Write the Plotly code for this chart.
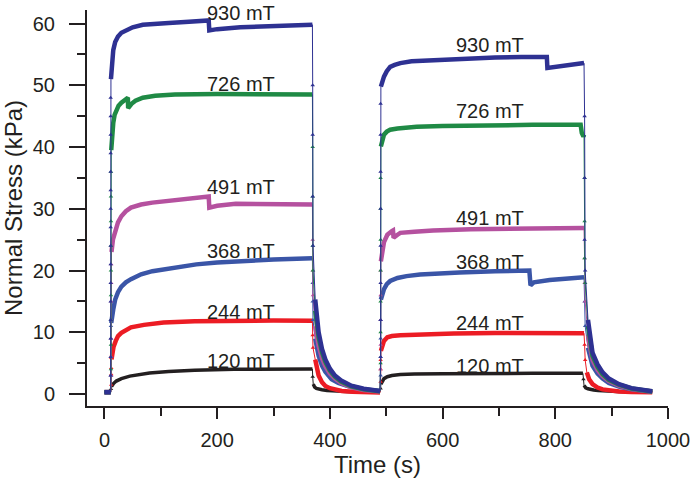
import plotly.graph_objects as go

# ---------------- data ----------------
fields = ["120 mT", "244 mT", "368 mT", "491 mT", "726 mT", "930 mT"]
colors = ["#231f20", "#ec1c24", "#3a55a7", "#b5519f", "#1f8a45", "#2e3192"]

# Each series = list of segments in time order.
# even segments: dense measured curve (thick), odd segments: fast jumps (thin, sparse points)

t120 = [[0, 4, 8, 11],
        [11.5],
        [12.5, 16, 21, 30, 45, 60, 80, 114, 160, 230, 300, 369],
        [369.5],
        [370.5, 373, 376, 380, 386, 395, 410, 430, 460, 489],
        [490],
        [490.5, 493, 496, 502, 510, 525, 550, 600, 650, 700, 760, 800, 849],
        [850],
        [851, 854, 858, 862, 868, 876, 890, 910, 940, 972]]
v120 = [[0.3, 0.3, 0.3, 0.3],
        [0.8],
        [1.2, 1.7, 2.1, 2.5, 2.9, 3.15, 3.4, 3.65, 3.85, 4.0, 4.05, 4.05],
        [2.8],
        [1.6, 1.1, 0.9, 0.78, 0.68, 0.58, 0.48, 0.4, 0.33, 0.28],
        [0.9],
        [1.6, 2.1, 2.5, 2.8, 3.0, 3.15, 3.25, 3.3, 3.35, 3.35, 3.35, 3.35, 3.35],
        [2.4],
        [1.4, 1.0, 0.85, 0.75, 0.65, 0.55, 0.47, 0.4, 0.33, 0.3]]

t244 = [[0, 4, 8, 11],
        [12, 12, 12],
        [12.5, 14, 16, 20, 24, 30, 38, 47, 70, 105, 160, 233, 300, 369],
        [369.5, 370],
        [374, 377, 380, 386, 392, 400, 410, 421, 440, 460, 489],
        [490, 490, 490],
        [490.5, 493, 496, 502, 510, 525, 560, 620, 693, 760, 851],
        [852, 853],
        [856, 860, 866, 875, 884, 895, 913, 935, 972]]
v244 = [[0.3, 0.3, 0.3, 0.3],
        [1.5, 3.2, 4.2],
        [5.6, 6.8, 7.6, 8.6, 9.4, 9.9, 10.4, 10.8, 11.2, 11.6, 11.8, 11.9, 11.9, 11.85],
        [9.5, 7.5],
        [5.6, 4.0, 3.0, 1.9, 1.3, 0.95, 0.7, 0.5, 0.38, 0.3, 0.25],
        [2.0, 4.0, 5.5],
        [7.0, 7.8, 8.6, 9.2, 9.4, 9.5, 9.65, 9.8, 9.9, 9.9, 9.85],
        [8.0, 5.5],
        [3.5, 2.4, 1.6, 1.05, 0.75, 0.55, 0.4, 0.32, 0.28]]

t368 = [[0, 4, 8, 11],
        [11.5, 11.5, 11.5, 11.5],
        [12, 13.5, 15.6, 19, 24, 30, 38, 47, 65, 85, 105, 135, 163, 200, 233, 300, 369],
        [369.5, 369.5, 370],
        [374, 377, 380, 386, 392, 403, 415, 432, 455, 484, 489],
        [490, 490, 490, 490],
        [490.5, 493, 496, 501, 507, 520, 536, 560, 583, 630, 693, 730, 754,
         756, 762, 790, 820, 851],
        [852, 853],
        [858, 866, 875, 884, 895, 913, 935, 959, 972]]
v368 = [[0.3, 0.3, 0.3, 0.3],
        [3, 6, 9, 11],
        [11.5, 12.8, 13.7, 15.3, 16.5, 17.4, 18.1, 18.6, 19.4, 19.9, 20.2, 20.6, 21.0, 21.3, 21.5, 21.8, 22.0],
        [18, 15, 12],
        [9.0, 7.3, 6.2, 4.6, 3.6, 2.4, 1.8, 1.3, 0.8, 0.55, 0.45],
        [3, 6, 9, 12],
        [15.3, 16.3, 17.0, 17.8, 18.3, 18.8, 19.1, 19.35, 19.5, 19.7, 19.9, 19.95, 20.0,
         17.6, 18.1, 18.45, 18.7, 18.9],
        [15, 11],
        [7.5, 4.6, 3.3, 2.5, 1.8, 1.2, 0.75, 0.45, 0.38]]

t491 = [[0, 4, 8, 11],
        [12, 12, 12, 12, 12, 12, 12],
        [12.5, 15, 18.5, 24, 30, 38, 47, 65, 85, 105, 140, 183, 185,
         186, 200, 233, 300, 369],
        [369.5, 369.5, 370],
        [374, 380, 386, 392, 400, 409, 420, 438, 460, 489],
        [490, 490, 490, 490, 490],
        [490.5, 493, 496, 502, 506, 510, 512, 513, 520, 525, 550, 583, 650, 693, 760, 851],
        [852, 852, 853],
        [858, 866, 875, 884, 895, 913, 935, 959, 972]]
v491 = [[0.3, 0.3, 0.3, 0.3],
        [3, 6, 9, 12, 15, 18, 21],
        [23, 25, 26.1, 27.8, 28.8, 29.6, 30.2, 30.7, 31.0, 31.2, 31.6, 32.0, 32.0,
         30.2, 30.5, 30.8, 30.8, 30.7],
        [25, 20, 16],
        [11, 7.8, 5.8, 4.5, 3.3, 2.5, 1.8, 1.1, 0.65, 0.4],
        [4, 8, 12, 16, 20],
        [21.5, 23.4, 24.6, 25.8, 26.2, 26.4, 26.5, 25.3, 25.8, 26.1, 26.3, 26.5, 26.7, 26.75, 26.85, 26.9],
        [22, 18, 15],
        [9.5, 5.5, 3.9, 2.9, 2.1, 1.35, 0.8, 0.5, 0.4]]

t726 = [[0, 4, 8, 11],
        [11.5, 11.5, 11.5, 11.5, 11.5, 11.5, 11.5, 11.5, 11.5],
        [12, 13, 15.6, 18, 21, 25, 30, 35, 40, 41.5, 42, 48, 55, 68, 90, 125, 200, 300, 369],
        [369.5, 369.5, 369.5, 370],
        [374, 380, 386, 392, 400, 409, 420, 438, 460, 489],
        [490, 490, 490, 490, 490, 490, 490],
        [490.5, 493, 496, 501, 507, 520, 554, 600, 693, 760, 845, 847, 850, 851],
        [852, 852, 852, 853],
        [858, 866, 875, 884, 895, 913, 935, 959, 972]]
v726 = [[0.3, 0.3, 0.3, 0.3],
        [4, 8, 12, 16, 20, 24, 28, 32, 36],
        [39.5, 42, 43.9, 45.2, 46, 46.7, 47.2, 47.6, 47.9, 48.0, 46.3, 47.0, 47.5, 48.0, 48.3, 48.5, 48.6, 48.6, 48.5],
        [40, 32, 24, 20],
        [13.5, 9.2, 6.8, 5.2, 3.8, 2.8, 2.0, 1.25, 0.75, 0.45],
        [5, 10, 15, 20, 25, 30, 35],
        [40.1, 41.2, 42.0, 42.5, 42.8, 43.0, 43.3, 43.4, 43.6, 43.6, 43.6, 42.3, 41.7, 42.0],
        [35, 28, 22, 18],
        [11, 6.2, 4.4, 3.2, 2.3, 1.5, 0.9, 0.5, 0.42]]

t930 = [[0, 4, 8, 11],
        [11, 11, 11, 11, 11, 11, 11, 11, 11, 11, 11, 11, 11, 11, 11, 11],
        [11.5, 13, 15.6, 19, 24, 30, 39, 50, 68, 90, 114, 150, 183, 185,
         186, 200, 241, 300, 369],
        [369.5, 369.5, 369.5, 370],
        [374, 380, 386, 392, 400, 409, 420, 438, 460, 489],
        [490, 490, 490, 490, 490, 490, 490, 490],
        [490.5, 493, 496, 501, 507, 515, 525, 545, 583, 630, 693, 740, 784, 785,
         786, 800, 830, 851],
        [852, 852, 852, 853],
        [858, 866, 875, 884, 895, 913, 935, 959, 972]]
v930 = [[0.3, 0.3, 0.3, 0.3],
        [3, 6, 9, 12, 15, 18, 21, 24, 27, 30, 33, 36, 39, 42, 45, 48],
        [51, 54, 55.7, 57, 57.9, 58.5, 59.0, 59.4, 59.8, 60.0, 60.1, 60.3, 60.5, 60.5,
         58.9, 59.1, 59.4, 59.6, 59.8],
        [50, 42, 32, 24],
        [15.3, 10, 7.3, 5.6, 4.1, 3.0, 2.2, 1.35, 0.85, 0.5],
        [6, 12, 18, 24, 30, 36, 42, 47],
        [49.8, 50.8, 51.4, 52.3, 53.0, 53.3, 53.6, 53.9, 54.1, 54.3, 54.5, 54.6, 54.6, 54.6,
         52.8, 53.0, 53.3, 53.6],
        [45, 35, 25, 20],
        [12, 6.7, 4.8, 3.5, 2.5, 1.6, 0.95, 0.55, 0.45]]

series_t = [t120, t244, t368, t491, t726, t930]
series_v = [v120, v244, v368, v491, v726, v930]

# label positions (two cycles)
label_t1 = [243, 243, 243, 243, 243, 243]
label_v1 = [5.4, 13.35, 23.2, 33.5, 50.2, 61.7]
label_t2 = [684, 684, 684, 684, 684, 684]
label_v2 = [4.55, 11.5, 21.4, 28.5, 45.9, 56.6]

# ---------------- figure ----------------
FONT = "Liberation Sans, Arial, sans-serif"
AX = "#231f20"
fig = go.Figure()

for name, col, T, V in zip(fields, colors, series_t, series_v):
    xs, ys = [], []
    for t, v in zip(T, V):
        xs += t
        ys += v
    fig.add_trace(go.Scatter(x=xs, y=ys, mode="lines", line=dict(color=col, width=1),
                             showlegend=False, hoverinfo="skip"))
    mx, my = [], []
    for i in range(1, len(T), 2):
        mx += T[i]
        my += V[i]
    fig.add_trace(go.Scatter(x=mx, y=my, mode="markers",
                             marker=dict(symbol="triangle-up", size=4, color=col),
                             showlegend=False, hoverinfo="skip"))
    kx, ky = [], []
    for i in range(0, len(T), 2):
        kx += T[i] + [None]
        ky += V[i] + [None]
    fig.add_trace(go.Scatter(x=kx, y=ky, mode="lines",
                             line=dict(color=col, width=4.5 if name != "120 mT" else 3.5),
                             name=name, showlegend=False))

for name, a, b, c, d in zip(fields, label_t1, label_v1, label_t2, label_v2):
    for x, y in ((a, b), (c, d)):
        fig.add_annotation(x=x, y=y, text=name, showarrow=False, xanchor="center", yanchor="middle",
                           font=dict(family=FONT, size=20, color=AX))

fig.update_layout(
    width=700, height=483,
    margin=dict(l=83, r=23, t=10, b=76),
    paper_bgcolor="white", plot_bgcolor="white",
    font=dict(family=FONT, color=AX),
    showlegend=False,
)
fig.update_xaxes(
    range=[-31, 1000], showgrid=False, zeroline=False,
    showline=True, linewidth=2, linecolor=AX,
    ticks="outside", ticklen=11, tickwidth=2, tickcolor=AX,
    tickvals=[0, 200, 400, 600, 800, 1000],
    minor=dict(tickvals=[100, 300, 500, 700, 900], ticks="outside", ticklen=8, tickwidth=2, tickcolor=AX, showgrid=False),
    tickfont=dict(family=FONT, size=20, color=AX),
    ticklabelstandoff=4,
    title=dict(text="Time (s)", font=dict(family=FONT, size=24, color=AX), standoff=5),
)
fig.update_yaxes(
    range=[-1.94, 62.2], showgrid=False, zeroline=False,
    showline=True, linewidth=2, linecolor=AX,
    ticks="outside", ticklen=16, tickwidth=2, tickcolor=AX,
    tickvals=[0, 10, 20, 30, 40, 50, 60],
    minor=dict(tickvals=[5, 15, 25, 35, 45, 55], ticks="outside", ticklen=8, tickwidth=2, tickcolor=AX, showgrid=False),
    tickfont=dict(family=FONT, size=20, color=AX),
    ticklabelstandoff=10,
    title=dict(text="Normal Stress (kPa)", font=dict(family=FONT, size=24, color=AX), standoff=6),
)

fig.write_html("out.html")
